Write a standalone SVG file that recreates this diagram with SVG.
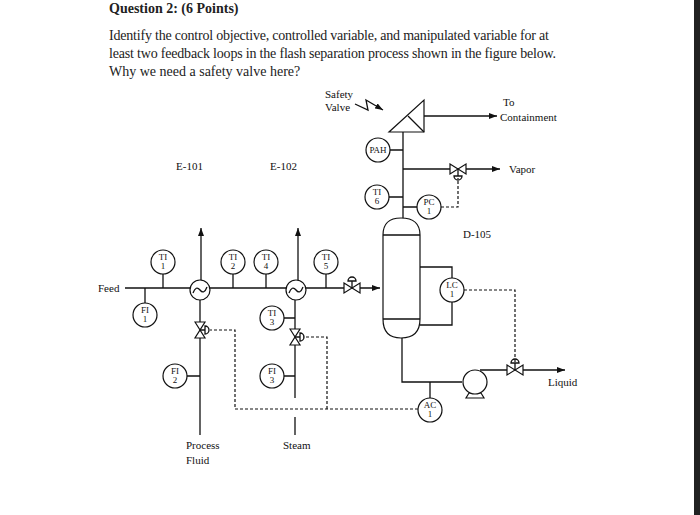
<svg xmlns="http://www.w3.org/2000/svg" width="700" height="515" viewBox="0 0 700 515">
<defs>
<style>
.t{font-family:"Liberation Serif",serif;font-size:14px;fill:#222}
.l{font-family:"Liberation Serif",serif;font-size:11px;fill:#111}
.s{font-family:"Liberation Serif",serif;font-size:9px;fill:#111;text-anchor:middle}
.p{stroke:#111;stroke-width:1.3;fill:none}
.d{stroke:#111;stroke-width:1.2;fill:none;stroke-dasharray:3,2}
.c{stroke:#111;stroke-width:1.2;fill:#fff}
</style>
<marker id="a" markerWidth="8" markerHeight="6" refX="8" refY="3" orient="auto" markerUnits="userSpaceOnUse"><path d="M0,0L8,3L0,6z" fill="#111"/></marker>
<g id="vh"><path d="M-8,-5L8,5L8,-5L-8,5z" class="c"/></g>
<g id="vv"><path d="M-5,-8L5,8L-5,8L5,-8z" class="c"/></g>
</defs>
<rect width="700" height="515" fill="#fff"/>
<rect x="694" y="0" width="6" height="515" fill="#222"/>
<text class="t" x="109" y="13" font-weight="bold">Question 2: (6 Points)</text>
<text class="t" x="109" y="40" textLength="440">Identify the control objective, controlled variable, and manipulated variable for at</text>
<text class="t" x="109" y="58" textLength="447">least two feedback loops in the flash separation process shown in the figure below.</text>
<text class="t" x="109" y="76">Why we need a safety valve here?</text>

<g id="connectors">
<path class="p" d="M125,288H380" marker-end="url(#a)"/>
<path class="p" d="M145,288V303M163,274V288M233,274V288M266,274V288M326,274V288"/>
<path class="p" d="M201,280V228" marker-end="url(#a)"/>
<path class="p" d="M298,280V228" marker-end="url(#a)"/>
<path class="p" d="M200,300V435M187,376H200"/>
<path class="p" d="M295,300V398M295,417V435M284,318H295M284,376H295"/>
<path class="p" d="M403,219V132M390,150H403M389,197H403M417,207H403"/>
<path class="p" d="M403,169H500" marker-end="url(#a)"/>
<path class="p" d="M424,116H497" marker-end="url(#a)"/>
<path class="p" d="M355,104L368,110L366,100L383,110" marker-end="url(#a)"/>
<path class="p" d="M420,267H452V278M452,302V325H420"/>
<path class="p" d="M402,338V382H462M430,382V398"/>
<path class="p" d="M480,370H565" marker-end="url(#a)"/>
<path class="d" d="M441,207H458V178"/>
<path class="d" d="M464,290H515V364"/>
<path class="d" d="M418,409H235V330H210M327,409V337H303"/>
</g>

<g id="valves">
<use href="#vh" x="352" y="288"/><path class="p" d="M352,288V281M348,281a4,4 0 0 1 8,0z"/>
<use href="#vh" x="458" y="169"/><path class="p" d="M458,169V176M454,176a4,4 0 0 0 8,0z"/>
<use href="#vh" x="515" y="370"/><path class="p" d="M515,370V363M511,363a4,4 0 0 1 8,0z"/>
<use href="#vv" x="200" y="330"/><path class="p" d="M200,330H205M205,326a4,4 0 0 1 0,8z"/>
<use href="#vv" x="295" y="337"/><path class="p" d="M295,337H300M300,333a4,4 0 0 1 0,8z"/>
</g>

<g id="safety-valve"><path class="c" d="M389,132H424V100z"/><path class="p" d="M408,116L424,132"/></g>

<g id="E-101"><circle class="c" cx="200" cy="290" r="10"/><path class="p" d="M193,293q3,-8 7,-3t7,-3"/></g>
<g id="E-102"><circle class="c" cx="296" cy="290" r="10"/><path class="p" d="M289,293q3,-8 7,-3t7,-3"/></g>

<g id="D-105"><path class="c" d="M383,235Q383,218 401,218Q420,218 420,235V319Q420,338 401,338Q383,338 383,319Z"/><path class="p" d="M383,235H420M383,319H420"/></g>

<g id="pump"><path class="c" d="M469,393L466,398H484L481,393z"/><circle class="c" cx="475" cy="382" r="12"/></g>

<g id="TI1"><circle class="c" cx="163" cy="262" r="12"/><text class="s" x="163" y="260">TI</text><text class="s" x="163" y="269">1</text></g>
<g id="FI1"><circle class="c" cx="145" cy="315" r="12"/><text class="s" x="145" y="313">FI</text><text class="s" x="145" y="322">1</text></g>
<g id="TI2"><circle class="c" cx="233" cy="262" r="12"/><text class="s" x="233" y="260">TI</text><text class="s" x="233" y="269">2</text></g>
<g id="TI4"><circle class="c" cx="266" cy="262" r="12"/><text class="s" x="266" y="260">TI</text><text class="s" x="266" y="269">4</text></g>
<g id="TI5"><circle class="c" cx="326" cy="262" r="12"/><text class="s" x="326" y="260">TI</text><text class="s" x="326" y="269">5</text></g>
<g id="FI2"><circle class="c" cx="175" cy="376" r="12"/><text class="s" x="175" y="374">FI</text><text class="s" x="175" y="383">2</text></g>
<g id="TI3"><circle class="c" cx="272" cy="318" r="12"/><text class="s" x="272" y="316">TI</text><text class="s" x="272" y="325">3</text></g>
<g id="FI3"><circle class="c" cx="272" cy="376" r="12"/><text class="s" x="272" y="374">FI</text><text class="s" x="272" y="383">3</text></g>
<g id="PAH"><circle class="c" cx="378" cy="150" r="12"/><text class="s" x="378" y="153">PAH</text></g>
<g id="TI6"><circle class="c" cx="377" cy="197" r="12"/><text class="s" x="377" y="195">TI</text><text class="s" x="377" y="204">6</text></g>
<g id="PC1"><circle class="c" cx="429" cy="207" r="12"/><text class="s" x="429" y="205">PC</text><text class="s" x="429" y="214">1</text></g>
<g id="LC1"><circle class="c" cx="452" cy="290" r="12"/><text class="s" x="452" y="288">LC</text><text class="s" x="452" y="297">1</text></g>
<g id="AC1"><circle class="c" cx="430" cy="410" r="12"/><text class="s" x="430" y="408">AC</text><text class="s" x="430" y="417">1</text></g>

<g id="labels">
<text class="l" x="98" y="292">Feed</text>
<text class="l" x="176" y="170">E-101</text>
<text class="l" x="270" y="170">E-102</text>
<text class="l" x="463" y="238">D-105</text>
<text class="l" x="325" y="98">Safety</text>
<text class="l" x="325" y="111">Valve</text>
<text class="l" x="503" y="106">To</text>
<text class="l" x="500" y="121">Containment</text>
<text class="l" x="509" y="173">Vapor</text>
<text class="l" x="548" y="386">Liquid</text>
<text class="l" x="186" y="449">Process</text>
<text class="l" x="186" y="464">Fluid</text>
<text class="l" x="283" y="449">Steam</text>
</g>
</svg>
